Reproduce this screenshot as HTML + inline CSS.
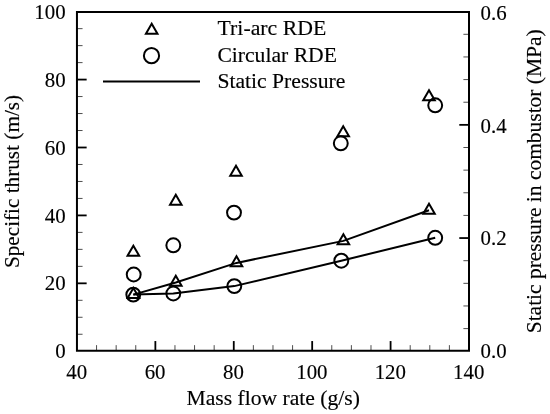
<!DOCTYPE html>
<html><head><meta charset="utf-8"><title>Chart</title>
<style>
html,body{margin:0;padding:0;background:#fff;}
svg{display:block;}
text{font-family:"Liberation Serif",serif;font-size:21.7px;fill:#000;stroke:#000;stroke-width:0.15px;}
text.t{font-size:22.0px;}
</style></head><body>
<svg width="550" height="414" viewBox="0 0 550 414">
<rect width="550" height="414" fill="#fff"/>
<rect x="76.95" y="12.0" width="392.05" height="338.75" fill="none" stroke="#000" stroke-width="2"/>
<line x1="76.95" y1="334.26" x2="82.55" y2="334.26" stroke="#000" stroke-width="0.7"/>
<line x1="76.95" y1="317.28" x2="82.55" y2="317.28" stroke="#000" stroke-width="0.7"/>
<line x1="76.95" y1="300.30" x2="82.55" y2="300.30" stroke="#000" stroke-width="0.7"/>
<line x1="76.95" y1="283.33" x2="86.65" y2="283.33" stroke="#000" stroke-width="1.8"/>
<line x1="76.95" y1="266.35" x2="82.55" y2="266.35" stroke="#000" stroke-width="0.7"/>
<line x1="76.95" y1="249.37" x2="82.55" y2="249.37" stroke="#000" stroke-width="0.7"/>
<line x1="76.95" y1="232.39" x2="82.55" y2="232.39" stroke="#000" stroke-width="0.7"/>
<line x1="76.95" y1="215.41" x2="86.65" y2="215.41" stroke="#000" stroke-width="1.8"/>
<line x1="76.95" y1="198.43" x2="82.55" y2="198.43" stroke="#000" stroke-width="0.7"/>
<line x1="76.95" y1="181.46" x2="82.55" y2="181.46" stroke="#000" stroke-width="0.7"/>
<line x1="76.95" y1="164.48" x2="82.55" y2="164.48" stroke="#000" stroke-width="0.7"/>
<line x1="76.95" y1="147.50" x2="86.65" y2="147.50" stroke="#000" stroke-width="1.8"/>
<line x1="76.95" y1="130.52" x2="82.55" y2="130.52" stroke="#000" stroke-width="0.7"/>
<line x1="76.95" y1="113.54" x2="82.55" y2="113.54" stroke="#000" stroke-width="0.7"/>
<line x1="76.95" y1="96.56" x2="82.55" y2="96.56" stroke="#000" stroke-width="0.7"/>
<line x1="76.95" y1="79.58" x2="86.65" y2="79.58" stroke="#000" stroke-width="1.8"/>
<line x1="76.95" y1="62.61" x2="82.55" y2="62.61" stroke="#000" stroke-width="0.7"/>
<line x1="76.95" y1="45.63" x2="82.55" y2="45.63" stroke="#000" stroke-width="0.7"/>
<line x1="76.95" y1="28.65" x2="82.55" y2="28.65" stroke="#000" stroke-width="0.7"/>
<text class="t" x="65.6" y="358.15" text-anchor="end" textLength="10.43" lengthAdjust="spacingAndGlyphs">0</text>
<text class="t" x="65.6" y="290.40" text-anchor="end" textLength="20.85" lengthAdjust="spacingAndGlyphs">20</text>
<text class="t" x="65.6" y="222.65" text-anchor="end" textLength="20.85" lengthAdjust="spacingAndGlyphs">40</text>
<text class="t" x="65.6" y="154.90" text-anchor="end" textLength="20.85" lengthAdjust="spacingAndGlyphs">60</text>
<text class="t" x="65.6" y="87.15" text-anchor="end" textLength="20.85" lengthAdjust="spacingAndGlyphs">80</text>
<text class="t" x="65.6" y="19.40" text-anchor="end" textLength="31.28" lengthAdjust="spacingAndGlyphs">100</text>
<line x1="96.55" y1="350.75" x2="96.55" y2="345.15" stroke="#000" stroke-width="0.7"/>
<line x1="116.16" y1="350.75" x2="116.16" y2="345.15" stroke="#000" stroke-width="0.7"/>
<line x1="135.76" y1="350.75" x2="135.76" y2="345.15" stroke="#000" stroke-width="0.7"/>
<line x1="155.36" y1="350.75" x2="155.36" y2="341.05" stroke="#000" stroke-width="1.8"/>
<line x1="174.96" y1="350.75" x2="174.96" y2="345.15" stroke="#000" stroke-width="0.7"/>
<line x1="194.56" y1="350.75" x2="194.56" y2="345.15" stroke="#000" stroke-width="0.7"/>
<line x1="214.17" y1="350.75" x2="214.17" y2="345.15" stroke="#000" stroke-width="0.7"/>
<line x1="233.77" y1="350.75" x2="233.77" y2="341.05" stroke="#000" stroke-width="1.8"/>
<line x1="253.37" y1="350.75" x2="253.37" y2="345.15" stroke="#000" stroke-width="0.7"/>
<line x1="272.98" y1="350.75" x2="272.98" y2="345.15" stroke="#000" stroke-width="0.7"/>
<line x1="292.58" y1="350.75" x2="292.58" y2="345.15" stroke="#000" stroke-width="0.7"/>
<line x1="312.18" y1="350.75" x2="312.18" y2="341.05" stroke="#000" stroke-width="1.8"/>
<line x1="331.78" y1="350.75" x2="331.78" y2="345.15" stroke="#000" stroke-width="0.7"/>
<line x1="351.38" y1="350.75" x2="351.38" y2="345.15" stroke="#000" stroke-width="0.7"/>
<line x1="370.99" y1="350.75" x2="370.99" y2="345.15" stroke="#000" stroke-width="0.7"/>
<line x1="390.59" y1="350.75" x2="390.59" y2="341.05" stroke="#000" stroke-width="1.8"/>
<line x1="410.19" y1="350.75" x2="410.19" y2="345.15" stroke="#000" stroke-width="0.7"/>
<line x1="429.80" y1="350.75" x2="429.80" y2="345.15" stroke="#000" stroke-width="0.7"/>
<line x1="449.40" y1="350.75" x2="449.40" y2="345.15" stroke="#000" stroke-width="0.7"/>
<text class="t" x="76.65" y="378.8" text-anchor="middle" textLength="20.85" lengthAdjust="spacingAndGlyphs">40</text>
<text class="t" x="155.06" y="378.8" text-anchor="middle" textLength="20.85" lengthAdjust="spacingAndGlyphs">60</text>
<text class="t" x="233.47" y="378.8" text-anchor="middle" textLength="20.85" lengthAdjust="spacingAndGlyphs">80</text>
<text class="t" x="311.88" y="378.8" text-anchor="middle" textLength="31.28" lengthAdjust="spacingAndGlyphs">100</text>
<text class="t" x="390.29" y="378.8" text-anchor="middle" textLength="31.28" lengthAdjust="spacingAndGlyphs">120</text>
<text class="t" x="468.70" y="378.8" text-anchor="middle" textLength="31.28" lengthAdjust="spacingAndGlyphs">140</text>
<line x1="469.0" y1="328.60" x2="463.4" y2="328.60" stroke="#000" stroke-width="0.7"/>
<line x1="469.0" y1="305.96" x2="463.4" y2="305.96" stroke="#000" stroke-width="0.7"/>
<line x1="469.0" y1="283.33" x2="463.4" y2="283.33" stroke="#000" stroke-width="0.7"/>
<line x1="469.0" y1="260.69" x2="463.4" y2="260.69" stroke="#000" stroke-width="0.7"/>
<line x1="469.0" y1="238.05" x2="459.3" y2="238.05" stroke="#000" stroke-width="1.8"/>
<line x1="469.0" y1="215.41" x2="463.4" y2="215.41" stroke="#000" stroke-width="0.7"/>
<line x1="469.0" y1="192.77" x2="463.4" y2="192.77" stroke="#000" stroke-width="0.7"/>
<line x1="469.0" y1="170.14" x2="463.4" y2="170.14" stroke="#000" stroke-width="0.7"/>
<line x1="469.0" y1="147.50" x2="463.4" y2="147.50" stroke="#000" stroke-width="0.7"/>
<line x1="469.0" y1="124.86" x2="459.3" y2="124.86" stroke="#000" stroke-width="1.8"/>
<line x1="469.0" y1="102.22" x2="463.4" y2="102.22" stroke="#000" stroke-width="0.7"/>
<line x1="469.0" y1="79.58" x2="463.4" y2="79.58" stroke="#000" stroke-width="0.7"/>
<line x1="469.0" y1="56.95" x2="463.4" y2="56.95" stroke="#000" stroke-width="0.7"/>
<line x1="469.0" y1="34.31" x2="463.4" y2="34.31" stroke="#000" stroke-width="0.7"/>
<text class="t" x="480.5" y="358.35" text-anchor="start" textLength="26.06" lengthAdjust="spacingAndGlyphs">0.0</text>
<text class="t" x="480.5" y="245.43" text-anchor="start" textLength="26.06" lengthAdjust="spacingAndGlyphs">0.2</text>
<text class="t" x="480.5" y="132.52" text-anchor="start" textLength="26.06" lengthAdjust="spacingAndGlyphs">0.4</text>
<text class="t" x="480.5" y="19.60" text-anchor="start" textLength="26.06" lengthAdjust="spacingAndGlyphs">0.6</text>
<text x="273.2" y="404.8" text-anchor="middle" textLength="173.4" lengthAdjust="spacingAndGlyphs">Mass flow rate (g/s)</text>
<text transform="translate(19.45,181.5) rotate(-90)" text-anchor="middle" textLength="173.2" lengthAdjust="spacingAndGlyphs">Specific thrust (m/s)</text>
<text transform="translate(541.1,181.3) rotate(-90)" text-anchor="middle" textLength="304.0" lengthAdjust="spacingAndGlyphs">Static pressure in combustor (MPa)</text>
<polyline points="133.4,294.6 175.8,282.5 236.5,262.9 343.4,240.9 429,210.3" fill="none" stroke="#000" stroke-width="2"/>
<polyline points="133.3,294.6 173.3,293.5 234.3,286.1 341.3,260.7 435.2,237.8" fill="none" stroke="#000" stroke-width="2"/>
<polygon points="133.35,245.64 127.58,255.63 139.12,255.63" fill="none" stroke="#000" stroke-width="2.0" stroke-linejoin="miter"/>
<polygon points="175.80,194.64 170.03,204.63 181.57,204.63" fill="none" stroke="#000" stroke-width="2.0" stroke-linejoin="miter"/>
<polygon points="236.00,165.84 230.23,175.83 241.77,175.83" fill="none" stroke="#000" stroke-width="2.0" stroke-linejoin="miter"/>
<polygon points="343.20,126.24 337.43,136.23 348.97,136.23" fill="none" stroke="#000" stroke-width="2.0" stroke-linejoin="miter"/>
<polygon points="429.00,90.24 423.23,100.23 434.77,100.23" fill="none" stroke="#000" stroke-width="2.0" stroke-linejoin="miter"/>
<polygon points="133.40,287.94 127.63,297.93 139.17,297.93" fill="none" stroke="#000" stroke-width="2.0" stroke-linejoin="miter"/>
<polygon points="175.80,275.84 170.03,285.83 181.57,285.83" fill="none" stroke="#000" stroke-width="2.0" stroke-linejoin="miter"/>
<polygon points="236.50,256.24 230.73,266.23 242.27,266.23" fill="none" stroke="#000" stroke-width="2.0" stroke-linejoin="miter"/>
<polygon points="343.40,234.24 337.63,244.23 349.17,244.23" fill="none" stroke="#000" stroke-width="2.0" stroke-linejoin="miter"/>
<polygon points="429.00,203.64 423.23,213.63 434.77,213.63" fill="none" stroke="#000" stroke-width="2.0" stroke-linejoin="miter"/>
<circle cx="133.70" cy="274.50" r="6.95" fill="none" stroke="#000" stroke-width="2.0"/>
<circle cx="173.30" cy="245.30" r="6.95" fill="none" stroke="#000" stroke-width="2.0"/>
<circle cx="234.00" cy="212.60" r="6.95" fill="none" stroke="#000" stroke-width="2.0"/>
<circle cx="340.80" cy="143.30" r="6.95" fill="none" stroke="#000" stroke-width="2.0"/>
<circle cx="435.20" cy="105.30" r="6.95" fill="none" stroke="#000" stroke-width="2.0"/>
<circle cx="133.30" cy="294.60" r="6.95" fill="none" stroke="#000" stroke-width="2.0"/>
<circle cx="173.30" cy="293.50" r="6.95" fill="none" stroke="#000" stroke-width="2.0"/>
<circle cx="234.30" cy="286.10" r="6.95" fill="none" stroke="#000" stroke-width="2.0"/>
<circle cx="341.30" cy="260.70" r="6.95" fill="none" stroke="#000" stroke-width="2.0"/>
<circle cx="435.20" cy="237.80" r="6.95" fill="none" stroke="#000" stroke-width="2.0"/>
<polygon points="151.70,23.64 145.93,33.63 157.47,33.63" fill="none" stroke="#000" stroke-width="2.0" stroke-linejoin="miter"/>
<circle cx="151.50" cy="55.70" r="7.60" fill="none" stroke="#000" stroke-width="2.0"/>
<line x1="103" y1="81.6" x2="200" y2="81.6" stroke="#000" stroke-width="2"/>
<text x="217.6" y="35.2" textLength="108.6" lengthAdjust="spacingAndGlyphs">Tri-arc RDE</text>
<text x="217.4" y="62.2" textLength="119.5" lengthAdjust="spacingAndGlyphs">Circular RDE</text>
<text x="217.4" y="87.7" textLength="128.0" lengthAdjust="spacingAndGlyphs">Static Pressure</text>
</svg>
</body></html>
